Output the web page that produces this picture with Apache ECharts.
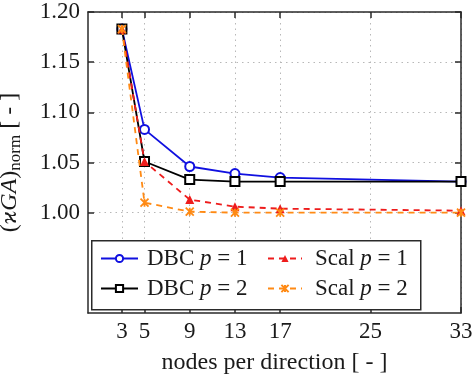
<!DOCTYPE html>
<html><head><meta charset="utf-8">
<script src="https://cdn.jsdelivr.net/npm/echarts@6/dist/echarts.min.js"></script>
<style>html,body{margin:0;padding:0;background:#fff}#c{width:474px;height:374px}</style>
</head><body><div id="c"></div>
<script>
const nodes = [3, 5, 9, 13, 17, 33];
const xTicks = [3, 5, 9, 13, 17, 25, 33];
const yTicks = [1.00, 1.05, 1.10, 1.15, 1.20];
const dbc1 = [1.183, 1.083, 1.046, 1.039, 1.035, 1.031];
const dbc2 = [1.183, 1.051, 1.033, 1.031, 1.031, 1.031];
const scal1 = [1.183, 1.051, 1.013, 1.006, 1.004, 1.002];
const scal2 = [1.183, 1.010, 1.001, 1.000, 1.000, 1.000];
const seriesNames = ['DBC p = 1', 'DBC p = 2', 'Scal p = 1', 'Scal p = 2'];

const FONT = '"Liberation Serif", "DejaVu Serif", serif';
const FS = 23;
const NFS = 24;
const axisCol = '#2a2a2a';
const pair = (ys) => nodes.map((x, i) => [x, ys[i]]);

const baseText = { fontFamily: FONT, fontSize: FS, color: '#1a1a1a' };
const legendRich = {
  n: { fontFamily: FONT, fontSize: FS, color: '#1a1a1a' },
  i: { fontFamily: FONT, fontSize: FS, fontStyle: 'italic', color: '#1a1a1a' }
};
const legendFmt = (name) => {
  const m = name.match(/^(\S+) p = (\d)$/);
  return '{n|' + m[1] + ' }{i|p}{n| = ' + m[2] + '}';
};

const chart = echarts.init(document.getElementById('c'), null, { renderer: 'canvas' });
const xCommon = {
  type: 'value', min: 0, max: 33,
  axisLine: { show: true, onZero: false, lineStyle: { color: axisCol, width: 1.5 } },
  axisTick: { show: true, inside: true, length: 6, customValues: xTicks, lineStyle: { color: axisCol, width: 1.5 } }
};
const yCommon = {
  type: 'value', min: 0.9, max: 1.2,
  axisLine: { show: true, onZero: false, lineStyle: { color: axisCol, width: 1.5 } },
  axisTick: { show: true, inside: true, length: 6, customValues: yTicks, lineStyle: { color: axisCol, width: 1.5 } }
};
chart.setOption({
  animation: false,
  backgroundColor: '#fff',
  grid: { left: 88, right: 13, top: 12, bottom: 61, containLabel: false, outerBoundsMode: 'none' },
  xAxis: [
    Object.assign({}, xCommon, {
      position: 'bottom',
      name: 'nodes per direction [ - ]', nameLocation: 'middle', nameGap: 38,
      nameTextStyle: Object.assign({}, baseText, { fontSize: NFS }),
      axisLabel: Object.assign({ margin: 7, customValues: xTicks }, baseText),
      splitLine: { show: true, lineStyle: { color: '#b8b8b8', type: [1.5, 4], width: 1 } }
    }),
    Object.assign({}, xCommon, { position: 'top', axisLabel: { show: false }, splitLine: { show: false } })
  ],
  yAxis: [
    Object.assign({}, yCommon, {
      position: 'left',
      name: '({i|ϰGA}){s|norm} [ - ]', nameLocation: 'middle', nameGap: 64,
      nameTextStyle: Object.assign({}, baseText, {
        fontSize: NFS,
        rich: {
          i: { fontFamily: FONT, fontSize: NFS, fontStyle: 'italic', color: '#1a1a1a' },
          s: { fontFamily: FONT, fontSize: 17, color: '#1a1a1a', padding: [11, 0, 0, 0] }
        }
      }),
      axisLabel: Object.assign({ margin: 8, customValues: yTicks, formatter: (v) => v.toFixed(2) }, baseText),
      splitLine: { show: true, lineStyle: { color: '#b8b8b8', type: [1.5, 4], width: 1 } }
    }),
    Object.assign({}, yCommon, { position: 'right', axisLabel: { show: false }, splitLine: { show: false } })
  ],
  legend: [
    {
      data: [seriesNames[0], seriesNames[1]], orient: 'vertical', z: 20,
      left: 100, top: 247, itemWidth: 37, itemHeight: 9, itemGap: 7, padding: 0,
      formatter: legendFmt, textStyle: { rich: legendRich, padding: [0, 0, 0, 4] }
    },
    {
      data: [seriesNames[2], seriesNames[3]], orient: 'vertical', z: 20,
      left: 267, top: 247, itemWidth: 34, itemHeight: 9, itemGap: 7, padding: 0,
      formatter: legendFmt, textStyle: { rich: legendRich, padding: [0, 0, 0, 8] }
    }
  ],
  graphic: [{
    type: 'rect', left: 91, top: 240, z: 10,
    shape: { width: 329, height: 69 },
    style: { fill: '#fff', stroke: axisCol, lineWidth: 1.5 }
  }],
  series: [
    {
      name: seriesNames[0], type: 'line', data: pair(dbc1),
      symbol: 'emptyCircle', symbolSize: 9, z: 2,
      lineStyle: { color: '#1010e0', width: 1.8 },
      itemStyle: { color: '#1010e0', borderWidth: 1.6 }
    },
    {
      name: seriesNames[1], type: 'line', data: pair(dbc2),
      symbol: 'emptyRect', symbolSize: 9, z: 3,
      lineStyle: { color: '#000', width: 1.8 },
      itemStyle: { color: '#000', borderWidth: 1.6 }
    },
    {
      name: seriesNames[2], type: 'line', data: pair(scal1),
      symbol: 'triangle', symbolSize: 9, z: 4,
      lineStyle: { color: '#ee1c1c', width: 1.8, type: [6, 5] },
      itemStyle: { color: '#ee1c1c' }
    },
    {
      name: seriesNames[3], type: 'line', data: pair(scal2),
      symbol: 'path://M0,0L10,10M10,0L0,10M5,0L5,10', symbolSize: 8, z: 4,
      lineStyle: { color: '#ff8a14', width: 1.8, type: [6, 5] },
      itemStyle: { color: '#ff8a14', borderColor: '#ff8a14', borderWidth: 1.8 }
    }
  ]
});
</script></body></html>
